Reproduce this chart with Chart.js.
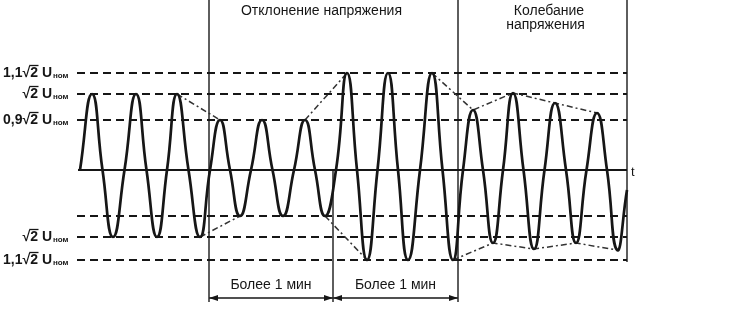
<!DOCTYPE html>
<html>
<head>
<meta charset="utf-8">
<script src="https://cdn.jsdelivr.net/npm/chart.js@4"></script>
<style>
  html, body { margin: 0; padding: 0; background: #fff; }
  canvas { display: block; }
</style>
</head>
<body>
<canvas id="chart" width="750" height="326"></canvas>
<script>
// schematic drawing units (not to scale)
// waveform: zero crossings, peaks and troughs
const waveTime = [0, 12, 22.5, 33, 44.5, 56, 66.5, 77, 87, 97, 108.5, 120, 130, 140, 150,
  160, 171, 182, 192.5, 203, 214, 225, 235, 245, 256, 267, 277, 287, 297.5, 308,
  318, 328, 340, 352, 362.5, 373, 383, 393, 403, 413, 423, 433, 443.5, 454, 464.5,
  475, 486, 496, 506.5, 517, 527, 537, 547];
const waveVolt = [0, 76, 0, -67, 0, 76, 0, -67, 0, 76, 0, -67, 0, 50, 0,
  -46, 0, 50, 0, -46, 0, 50, 0, -46, 0, 97, 0, -90, 0, 97,
  0, -90, 0, 97, 0, -90, 0, 60, 0, -73, 0, 77, 0, -79, 0,
  67, 0, -73, 0, 57, 0, -80, -20];

// dash-dot envelopes (null = no envelope drawn, it runs on a level line)
const envUpperTime = [97, 140, 182, 225, 267, 310, 352, 393, 433, 517];
const envUpperVolt = [76, 50, null, 50, 97, null, 97, 60, 77, 57];
const envLowerTime = [120, 160, 203, 245, 287, 330, 373, 413, 454, 496, 537];
const envLowerVolt = [-67, -46, null, -46, -90, null, -90, -73, -79, -73, -80];

// reference levels and their labels (prefix before √2, null = unlabeled)
const levelValues = [97, 76, 50, -46, -67, -90];
const levelPrefix = ["1,1", "", "0,9", null, "", "1,1"];

// time marks
const dividerTime = [129, 253, 378, 547];
const dividerTop = [170, 0, 170, 170];
const dividerBottom = [-132, -132, -132, -92];
const periodFrom = [129, 253];
const periodTo = [253, 378];
const periodLabel = "Более 1 мин";

const INK = "#161616";
const FONT = "'Liberation Sans', Arial, sans-serif";

const toPoints = (xs, ys) => xs.map((t, i) => ({ x: t, y: ys[i] }));

const datasets = [];
datasets.push({
  data: toPoints(waveTime, waveVolt),
  borderColor: INK, borderWidth: 2.7,
  tension: 0.52, order: 0
});
[[envUpperTime, envUpperVolt], [envLowerTime, envLowerVolt]].forEach(([t, v]) => {
  datasets.push({
    data: toPoints(t, v),
    borderColor: "#333", borderWidth: 1.5, borderDash: [6, 3, 2, 3], order: 1
  });
});
levelValues.forEach(v => {
  datasets.push({
    data: [{ x: -3, y: v }, { x: 547, y: v }],
    borderColor: INK, borderWidth: 2, borderDash: [8, 5], order: 2
  });
});
// time axis
datasets.push({ data: [{ x: -2, y: 0 }, { x: 547, y: 0 }], borderColor: INK, borderWidth: 1.8, order: 2 });
dividerTime.forEach((t, i) => {
  datasets.push({
    data: [{ x: t, y: dividerTop[i] }, { x: t, y: dividerBottom[i] }],
    borderColor: "#2a2a2a", borderWidth: 1.5, order: 2
  });
});
periodFrom.forEach((t, i) => {
  datasets.push({
    data: [{ x: t, y: -128 }, { x: periodTo[i], y: -128 }],
    borderColor: INK, borderWidth: 1.3, order: 2
  });
});

const annotations = {
  id: "annotations",
  afterDatasetsDraw(chart) {
    const { ctx, scales: { x, y } } = chart;
    ctx.save();
    ctx.fillStyle = INK;
    ctx.strokeStyle = INK;

    // level labels: "1,1√2 U" with subscript "ном"
    const right = x.getPixelForValue(-28);
    levelValues.forEach((v, i) => {
      const prefix = levelPrefix[i];
      if (prefix === null) return;
      const base = y.getPixelForValue(v) + 4;
      ctx.font = "bold 14px " + FONT;
      ctx.textAlign = "right";
      ctx.textBaseline = "alphabetic";
      ctx.fillText(prefix + "√2 U", right, base);
      const x2 = right - ctx.measureText("2 U").width;
      const w2 = ctx.measureText("2").width;
      ctx.lineWidth = 1.3;
      ctx.beginPath();
      ctx.moveTo(x2 - 1, base - 11.5);
      ctx.lineTo(x2 + w2 + 0.5, base - 11.5);
      ctx.stroke();
      ctx.font = "bold 8px " + FONT;
      ctx.textAlign = "left";
      ctx.fillText("ном", right + 1, base + 0.5);
    });

    // section titles
    ctx.font = "14px " + FONT;
    ctx.textAlign = "center";
    ctx.textBaseline = "alphabetic";
    ctx.fillText("Отклонение напряжения", x.getPixelForValue(241.5), y.getPixelForValue(155));
    ctx.fillText("Колебание", x.getPixelForValue(469), y.getPixelForValue(155));
    ctx.fillText("напряжения", x.getPixelForValue(465.5), y.getPixelForValue(141));

    // period arrows
    const ay = y.getPixelForValue(-128);
    periodFrom.forEach((t, i) => {
      const x0 = x.getPixelForValue(t);
      const x1 = x.getPixelForValue(periodTo[i]);
      ctx.beginPath();
      ctx.moveTo(x0, ay); ctx.lineTo(x0 + 9, ay - 3); ctx.lineTo(x0 + 9, ay + 3); ctx.closePath();
      ctx.moveTo(x1, ay); ctx.lineTo(x1 - 9, ay - 3); ctx.lineTo(x1 - 9, ay + 3); ctx.closePath();
      ctx.fill();
      ctx.font = "14px " + FONT;
      ctx.textAlign = "center";
      ctx.fillText(periodLabel, (x0 + x1) / 2, y.getPixelForValue(-119));
    });

    // time axis label
    ctx.font = "13px " + FONT;
    ctx.textAlign = "left";
    ctx.fillText("t", x.getPixelForValue(551), y.getPixelForValue(-6));
    ctx.restore();
  }
};

new Chart(document.getElementById("chart"), {
  type: "line",
  data: { datasets },
  options: {
    responsive: false,
    animation: false,
    devicePixelRatio: 1,
    elements: { point: { radius: 0 }, line: { fill: false, tension: 0 } },
    layout: { padding: 0 },
    plugins: { legend: { display: false }, tooltip: { enabled: false } },
    scales: {
      x: { type: "linear", min: -80, max: 670, display: false },
      y: { min: -156, max: 170, display: false }
    }
  },
  plugins: [annotations]
});
</script>
</body>
</html>
